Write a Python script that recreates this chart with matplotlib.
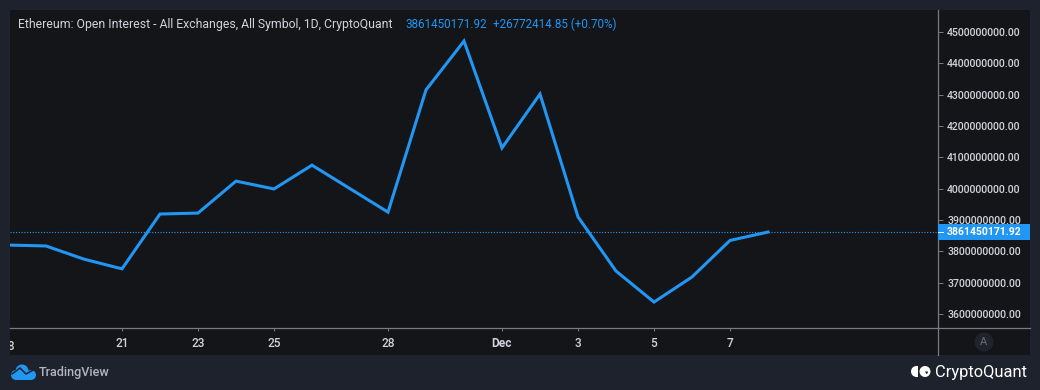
import matplotlib
matplotlib.use('Agg')
import matplotlib.pyplot as plt
from matplotlib.patches import Rectangle, Circle, Wedge
from matplotlib.transforms import Bbox, blended_transform_factory

plt.rcParams['font.family'] = ['Roboto', 'DejaVu Sans']

# day number counted from 1 Nov, so 31 is 1 Dec
days = [18, 19, 20, 21, 22, 23, 24, 25, 26, 27, 28, 29, 30, 31, 32, 33, 34, 35, 36, 37, 38]
open_interest = [3820e6, 3817e6, 3775e6, 3744e6, 3919e6, 3922e6, 4024e6, 3999e6, 4075e6,
                 4000e6, 3925e6, 4315e6, 4471e6, 4130e6, 4302e6, 3910e6, 3737e6, 3638e6,
                 3718e6, 3834677757.07, 3861450171.92]
x_ticks = [21, 23, 25, 28, 31, 33, 35, 37]
x_labels = ['21', '23', '25', '28', 'Dec', '3', '5', '7']
y_ticks = [3600e6, 3700e6, 3800e6, 3900e6, 4000e6, 4100e6, 4200e6, 4300e6, 4400e6, 4500e6]
last_value = 3861450171.92

BG = '#1e222d'
PANEL = '#141518'
BLUE = '#2196f3'
AXIS = '#787b86'
TEXT = '#d1d4dc'
TICK_FONT = 7.6
DATE_FONT = 8.6

fig = plt.figure(figsize=(10.4, 3.9), dpi=100, facecolor=BG)

# page furniture in pixel coordinates
bg = fig.add_axes([0, 0, 1, 1], zorder=0)
bg.set_xlim(0, 1040)
bg.set_ylim(390, 0)
bg.axis('off')
bg.add_patch(Rectangle((10, 10), 1020, 345, fc=PANEL, ec='none'))
bg.plot([938, 938], [10, 355], color=AXIS, lw=0.9)
bg.plot([10, 1030], [328, 328], color=AXIS, lw=0.9)
bg.add_patch(Circle((984, 342), 9.5, fc='#20232b', ec='none'))
bg.text(984, 342, 'A', color='#6a6d78', fontsize=8, ha='center', va='center')

# tradingview logo
bg.add_patch(Circle((16, 375), 5, fc=BLUE, ec='none'))
bg.add_patch(Circle((22, 371), 6.5, fc=BLUE, ec='none'))
bg.add_patch(Circle((31, 375), 5, fc=BLUE, ec='none'))
bg.add_patch(Rectangle((16, 373), 15, 7, fc=BLUE, ec='none'))
bg.plot([12, 20, 26, 35], [374, 368, 374, 369], color=BG, lw=1.1)
bg.text(39, 372.5, 'TradingView', color='#b2b5be', fontsize=9.1, fontweight='medium', ha='left', va='center')

# cryptoquant logo
bg.add_patch(Wedge((916.5, 371.5), 5.5, 90, 270, fc='white', ec='none'))
bg.add_patch(Rectangle((916, 366), 1.5, 11, fc='white', ec='none'))
bg.add_patch(Circle((925, 371.5), 5.5, fc='white', ec='none'))
bg.add_patch(Wedge((925, 371.5), 3, 0, 60, fc=BG, ec='none'))
bg.text(935, 372, 'CryptoQuant', color='white', fontsize=11.9, ha='left', va='center')

# price chart
ax = fig.add_axes([10 / 1040, (390 - 328) / 390, 928 / 1040, 318 / 390], zorder=1)
ax.patch.set_alpha(0)
for s in ax.spines.values():
    s.set_visible(False)
ax.plot(days, open_interest, color=BLUE, lw=2.2, solid_joinstyle='miter', zorder=3)
ax.axhline(last_value, color=BLUE, lw=0.8, ls=(0, (1, 1.5)), zorder=2)
ax.set_xlim(18.053, 42.474)
ax.set_ylim(3555.2e6, 4570.2e6)

ax.set_xticks(x_ticks)
ax.set_xticklabels(x_labels)
ax.yaxis.tick_right()
ax.set_yticks(y_ticks)
ax.set_yticklabels([f'{v:.2f}' for v in y_ticks])
ax.tick_params(axis='x', colors=AXIS, labelcolor=TEXT, labelsize=DATE_FONT, length=2.4, width=0.7, pad=3.9)
ax.tick_params(axis='y', colors=AXIS, labelcolor=TEXT, labelsize=TICK_FONT, length=3.6, width=0.7, pad=3)
for t in ax.get_xticklabels():
    t.set_fontweight('medium')
    if t.get_text() == 'Dec':
        t.set_fontweight('bold')
for t in ax.get_yticklabels():
    t.set_fontweight('medium')

# the 18 label is cut off by the panel edge
xtrans = blended_transform_factory(ax.transData, ax.transAxes)
t18 = ax.text(18, -0.0382, '18', transform=xtrans, color=TEXT, fontsize=DATE_FONT, fontweight='medium',
              ha='center', va='top')
t18.set_clip_path(None)
t18.set_clip_box(Bbox([[10, 35], [938, 62]]))
t18.set_clip_on(True)

# last value tag on the price axis
ytrans = ax.get_yaxis_transform()
tag_w = 92 / 928
ax.add_patch(Rectangle((1.0, last_value - 26.5e6), tag_w, 53e6, transform=ytrans, fc=BLUE, ec='none',
                       clip_on=False, zorder=5))
ax.text(1.0 + 9 / 928, last_value, f'{last_value:.2f}', transform=ytrans, color='white',
        fontsize=7.45, fontweight='bold', ha='left', va='center', zorder=6)
ax.plot([1.0, 1.0 + 5 / 928], [last_value, last_value], transform=ytrans, color='white', lw=0.7,
        clip_on=False, zorder=6)

# header line
bg.text(18, 24.5, 'Ethereum: Open Interest - All Exchanges, All Symbol, 1D, CryptoQuant',
        color=TEXT, fontsize=8.8, ha='left', va='center')
bg.text(405, 24.5, f'{last_value:.2f}', color=BLUE, fontsize=8.35, ha='left', va='center')
bg.text(493, 24.5, '+26772414.85 (+0.70%)', color=BLUE, fontsize=8.35, ha='left', va='center')

fig.savefig('out.png', dpi=100, facecolor=BG)
